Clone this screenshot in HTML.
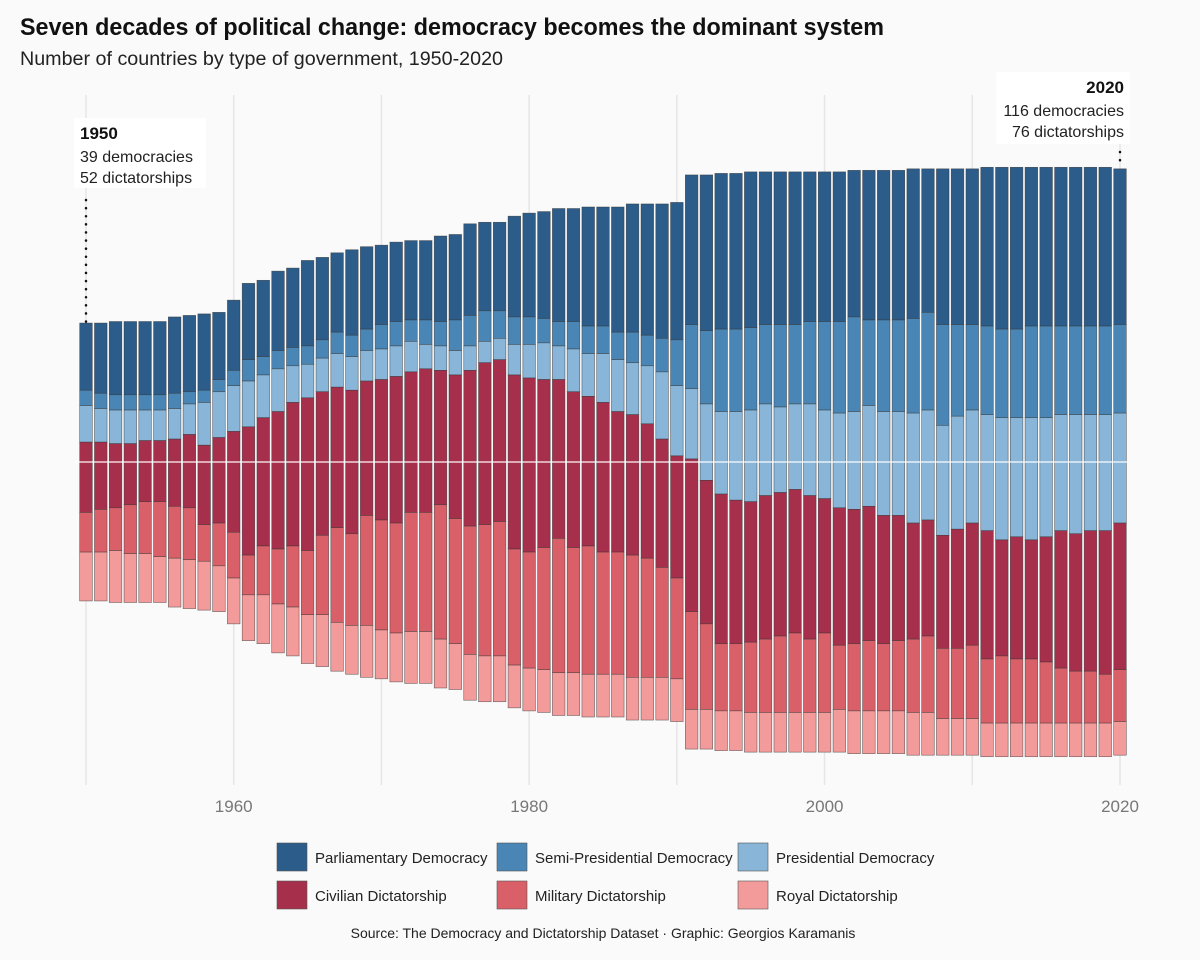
<!DOCTYPE html>
<html><head><meta charset="utf-8"><style>
body{margin:0;background:#fafafa;}
svg{display:block;font-family:"Liberation Sans",sans-serif;}
</style></head><body>
<svg id="chart" width="1200" height="960" viewBox="0 0 1200 960">
<rect width="1200" height="960" fill="#fafafa"/>
<text x="20" y="35" font-size="24" font-weight="bold" fill="#111" textLength="864" lengthAdjust="spacingAndGlyphs">Seven decades of political change: democracy becomes the dominant system</text>
<text x="20" y="65" font-size="19" fill="#222" textLength="483" lengthAdjust="spacingAndGlyphs">Number of countries by type of government, 1950-2020</text>
<g id="grid"></g>
<g id="bars"></g>
<line x1="75" x2="1128" y1="462" y2="462" stroke="#fff" stroke-width="1.5" opacity="0.8"/>
<g id="xticks"></g>
<g>
<rect x="74" y="118" width="132" height="70" fill="#fff"/>
<text x="80" y="139" font-size="17" font-weight="bold" fill="#111">1950</text>
<text x="80" y="162" font-size="16" fill="#222">39 democracies</text>
<text x="80" y="183" font-size="16" fill="#222">52 dictatorships</text>
<line x1="86" x2="86" y1="200" y2="322" stroke="#111" stroke-width="2.5" stroke-dasharray="0.1 8" stroke-linecap="round"/>
</g>
<g>
<rect x="996" y="72" width="134" height="72" fill="#fff"/>
<text x="1124" y="93" font-size="17" font-weight="bold" fill="#111" text-anchor="end">2020</text>
<text x="1124" y="116" font-size="16" fill="#222" text-anchor="end">116 democracies</text>
<text x="1124" y="137" font-size="16" fill="#222" text-anchor="end">76 dictatorships</text>
<line x1="1120" x2="1120" y1="152" y2="164" stroke="#111" stroke-width="2.5" stroke-dasharray="0.1 8" stroke-linecap="round"/>
</g>
<g id="legend" font-size="15" fill="#222"></g>
<text x="603" y="938" font-size="14" fill="#222" text-anchor="middle">Source: The Democracy and Dictatorship Dataset · Graphic: Georgios Karamanis</text>
</svg>
<script>
const years=[];for(let y=1950;y<=2020;y++)years.push(y);
const seriesNames=["Parliamentary Democracy","Semi-Presidential Democracy","Presidential Democracy","Civilian Dictatorship","Military Dictatorship","Royal Dictatorship"];
const seriesColors=["#2b5c8a","#4a86b5","#88b5d8","#a6304c","#d95f68","#f39b9b"];
const parliamentary=[22,23,24,24,24,24,25,25,25,22,23,25,25,26,26,28,27,26,28,27,26,26,26,26,28,28,30,29,29,33,34,35,37,37,39,39,41,42,43,44,45,49,51,51,51,51,50,50,50,49,49,49,48,49,49,49,49,47,51,51,51,52,53,53,52,52,52,52,52,52,51];
const semiPresidential=[5,5,5,5,5,5,5,4,4,4,5,7,6,6,6,6,6,7,7,7,8,8,7,8,8,10,10,10,9,9,9,8,8,9,9,9,9,10,10,11,15,21,24,27,27,27,26,27,26,27,29,30,31,28,30,30,31,32,33,30,28,29,29,29,30,30,29,29,29,29,29];
const presidential=[12,11,11,11,10,10,10,10,14,15,15,15,14,14,12,11,11,11,11,10,10,10,10,8,8,8,8,7,7,10,11,12,11,14,14,16,17,17,19,22,23,23,25,27,29,30,30,28,28,30,29,31,32,33,34,34,36,36,36,37,37,38,40,39,40,39,38,39,38,38,36];
const civilian=[23,22,21,20,20,20,22,24,26,28,33,42,42,45,47,50,47,46,47,44,46,48,46,47,44,47,51,53,53,57,57,55,52,51,49,49,46,46,44,42,40,50,47,49,47,46,47,47,47,47,44,45,44,44,42,41,38,38,37,39,40,42,38,40,39,41,45,45,46,47,48];
const military=[13,14,14,16,17,18,17,17,12,14,15,13,16,18,20,21,26,31,30,36,36,36,39,39,44,41,42,43,44,38,38,40,44,41,42,40,40,40,39,36,33,32,28,22,22,23,24,25,26,24,26,21,22,23,22,23,24,25,23,23,24,21,22,21,21,20,18,17,17,16,17];
const royal=[16,16,17,16,16,15,16,16,16,15,15,15,16,16,16,16,17,16,16,17,16,16,17,17,16,15,15,15,15,14,14,14,14,14,14,14,14,14,14,14,14,13,13,13,13,13,13,13,13,13,13,14,14,14,14,14,14,14,12,12,12,11,11,11,11,11,11,11,11,11,11];
const tickYears=[1960,1980,2000,2020];
const gridYears=[1950,1960,1970,1980,1990,2000,2010,2020];
const series=[parliamentary,semiPresidential,presidential,civilian,military,royal];
const NS="http://www.w3.org/2000/svg";
const x=y=>86+(y-1950)*(1120-86)/70;
const k=3.054, centerY=462;
const h=v=>v*k;
function mk(tag,attrs,parent){const e=document.createElementNS(NS,tag);for(const a in attrs)e.setAttribute(a,attrs[a]);parent.appendChild(e);return e;}
const grid=document.getElementById('grid');
gridYears.forEach(g=>{const l=mk('line',{x1:x(g),x2:x(g),y1:95,y2:785,stroke:'#e6e6e6','stroke-width':1.5},grid);

});
const bars=document.getElementById('bars');
const bw=12.6;
years.forEach((yr,i)=>{
  let total=0;series.forEach(s=>total+=s[i]);
  let top=centerY-h(total)/2;
  const g=mk('g',{},bars);
  
  
  series.forEach((s,j)=>{
    const r=mk('rect',{x:x(yr)-bw/2,y:top,width:bw,height:h(s[i]),fill:seriesColors[j],stroke:'#333','stroke-width':0.6,'stroke-opacity':0.7},g);
    
    
    top+=h(s[i]);
  });
});
const xt=document.getElementById('xticks');
tickYears.forEach(t=>{const e=mk('text',{x:x(t),y:812,'font-size':17,fill:'#777','text-anchor':'middle'},xt);e.textContent=t;

});
const lg=document.getElementById('legend');
const lx=[277,497,738], ly=[843,881];
seriesNames.forEach((n,j)=>{
  const cx=lx[j%3], cy=ly[Math.floor(j/3)];
  const g=mk('g',{},lg);
  
  
  mk('rect',{x:cx,y:cy,width:30,height:28,fill:seriesColors[j],stroke:'#555','stroke-width':0.6},g);
  const t=mk('text',{x:cx+38,y:cy+20,'font-size':15,fill:'#222'},g);t.textContent=n;
});
</script>
</body></html>
